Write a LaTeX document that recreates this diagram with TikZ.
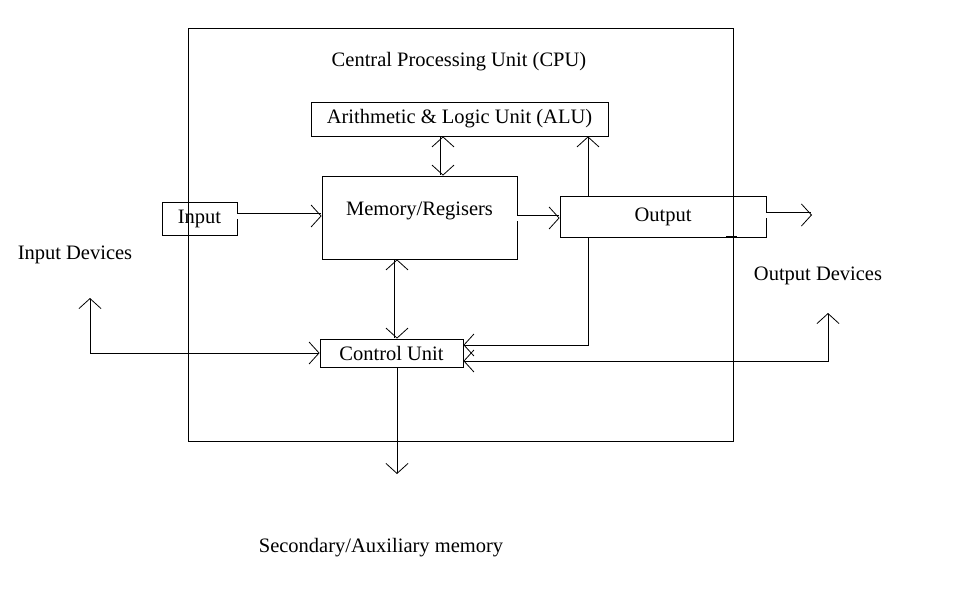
\documentclass[tikz,border=0pt]{standalone}
\usepackage{fontspec}
\setmainfont{Liberation Serif}
\usetikzlibrary{arrows.meta}
\begin{document}
\begin{tikzpicture}[x=1pt,y=-1pt,font=\fontsize{20.5}{24}\selectfont,
  box/.style={draw,line width=0.8pt,inner sep=0pt},
  tip/.style={-{Straight Barb[length=10pt,width=22pt,line width=0.8pt]}},
  tips/.style={{Straight Barb[length=10pt,width=22pt,line width=0.8pt]}-{Straight Barb[length=10pt,width=22pt,line width=0.8pt]}},
  dbl/.style={double,double distance=5pt,line width=0.8pt},
  sgl/.style={line width=0.8pt}]
\useasboundingbox (0,0) rectangle (953,613);
\fill[white] (0,0) rectangle (953,613);
\draw[line width=0.8pt] (188,28) rectangle (733,441);
\node (cpu) at (459,62) {Central Processing Unit (CPU)};
\node[box,minimum width=297pt,minimum height=34pt] (alu) at (459.5,119) {Arithmetic \& Logic Unit (ALU)};
\node[box,minimum width=195pt,minimum height=83pt] (mem) at (419.5,217.5) {};
\node at (419.5,211) {Memory/Regisers};
\node[box,minimum width=75pt,minimum height=33pt] (in) at (199.5,218.5) {Input};
\node[box,minimum width=206pt,minimum height=41pt] (out) at (663,216.5) {Output};
\node[box,minimum width=143pt,minimum height=28pt] (cu) at (391.5,353) {Control Unit};
\node (idev) at (75,255) {Input Devices};
\node (odev) at (818,276) {Output Devices};
\node (sec) at (381,548) {Secondary/Auxiliary memory};
\coordinate (iup) at (90,298);
\coordinate (oup) at (828,313);
\coordinate (sdn) at (397,474);
\coordinate (oend) at (812,215);
% double connectors
\draw[dbl,tip] (in.east |- 0,216) -- (mem.west |- 0,216);
\draw[dbl,tip] (mem.east |- 0,218) -- (out.west |- 0,218);
\draw[dbl,tip] (out.east |- oend) -- (oend);
\draw[dbl,tips] (alu.south -| 443,0) -- (mem.north -| 443,0);
\draw[dbl,tips] (mem.south -| 397,0) -- (cu.north -| 397,0);
% single connectors
\draw[sgl,tip] (out.north -| 588,0) -- (alu.south -| 588,0);
\draw[sgl,tip] (out.south -| 588,0) |- (cu.east |- 0,345);
\draw[sgl,tips] (iup) |- (cu.west |- 0,353);
\draw[sgl,tips] (cu.east |- 0,361) -| (oup);
\draw[sgl,tip] (cu.south -| sdn) -- (sdn);
\draw[line width=1.5pt] (726,237) -- (737,237);
\end{tikzpicture}
\end{document}
